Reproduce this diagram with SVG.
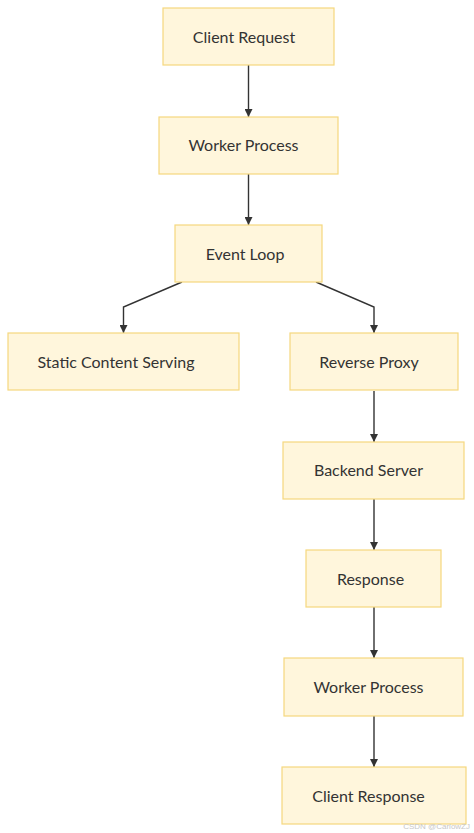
<svg xmlns="http://www.w3.org/2000/svg" width="474" height="833" viewBox="0 0 474 833">
<defs>
<marker id="arr" viewBox="0 0 10 10" refX="10" refY="5" markerWidth="8" markerHeight="8" markerUnits="userSpaceOnUse" orient="auto">
<path d="M0,0 L10,5 L0,10 z" fill="#333"/>
</marker>
<style>
.n rect{fill:#fff6dc;stroke:#f5d87e;stroke-width:1.2}
.n text{font-family:Lato,"Noto Sans",sans-serif;font-size:16px;fill:#333;text-anchor:middle;dominant-baseline:central}
.e path{fill:none;stroke:#333;stroke-width:1.4;marker-end:url(#arr)}
.wm{font-family:"Liberation Sans",sans-serif;font-size:8px;fill:#c8c8c8}
</style>
</defs>
<rect width="474" height="833" fill="#fff"/>
<g class="e" id="connectors">
<path d="M248.5,65 L248.5,117"/>
<path d="M248.5,174 L248.5,225"/>
<path d="M182,282 L123.5,307 L123.5,333"/>
<path d="M316,282 L374,307 L374,333"/>
<path d="M374,391 L374,442"/>
<path d="M374,499 L374,550"/>
<path d="M374,607 L374,658"/>
<path d="M374,716 L374,767"/>
</g>
<g class="n" id="client-request"><rect x="163" y="8" width="171" height="57"/><text x="244" y="36">Client Request</text></g>
<g class="n" id="worker-process-1"><rect x="159" y="117" width="179" height="57"/><text x="243.5" y="144.5">Worker Process</text></g>
<g class="n" id="event-loop"><rect x="175" y="225" width="147" height="57"/><text x="245" y="253">Event Loop</text></g>
<g class="n" id="static-content"><rect x="8" y="333" width="231" height="57"/><text x="116" y="361">Static Content Serving</text></g>
<g class="n" id="reverse-proxy"><rect x="290" y="333" width="168" height="57"/><text x="369" y="361">Reverse Proxy</text></g>
<g class="n" id="backend-server"><rect x="283" y="442" width="181" height="57"/><text x="368.5" y="469.5">Backend Server</text></g>
<g class="n" id="response"><rect x="306" y="550" width="135" height="57"/><text x="370.5" y="578">Response</text></g>
<g class="n" id="worker-process-2"><rect x="284" y="658" width="179" height="58"/><text x="368.5" y="686">Worker Process</text></g>
<g class="n" id="client-response"><rect x="282" y="767" width="184" height="57"/><text x="368.5" y="795">Client Response</text></g>
<text class="wm" x="470" y="829" text-anchor="end">CSDN @CarlowZJ</text>
</svg>
